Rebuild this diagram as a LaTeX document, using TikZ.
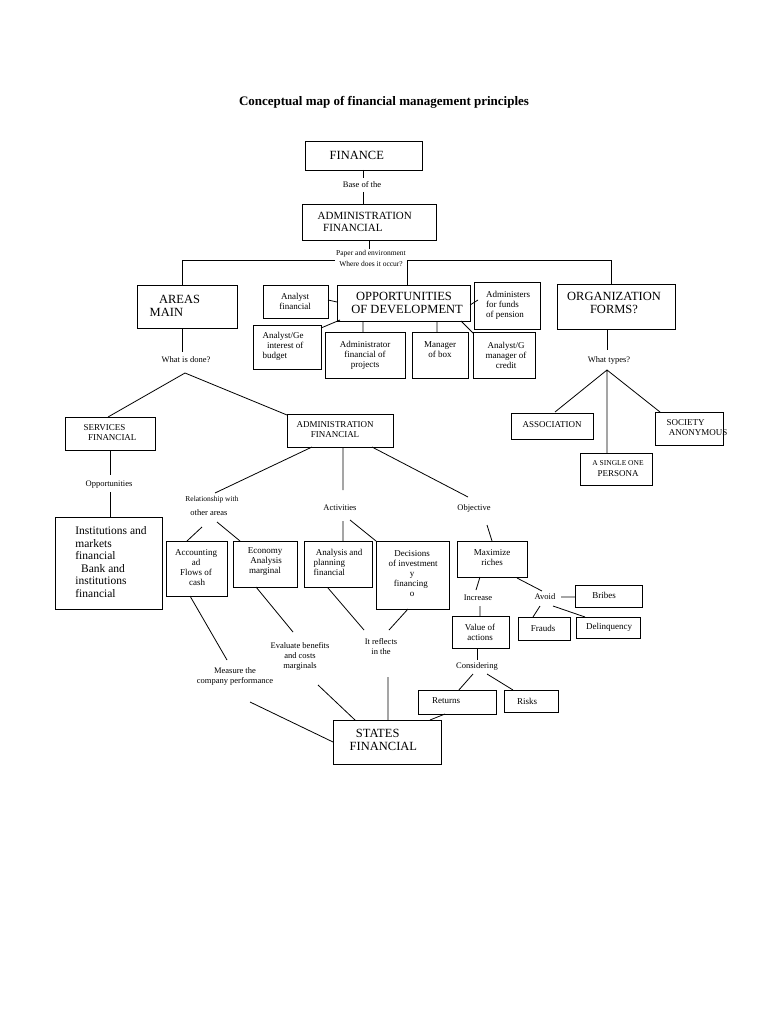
\documentclass[tikz,border=0pt]{standalone}
\usepackage{fontspec}
\setmainfont{Liberation Serif}
\begin{document}
\begin{tikzpicture}[x=1pt,y=-1pt,line width=0.8pt,
 bx/.style={draw,fill=white},
 big/.style={font=\fontsize{12.5}{13}\selectfont,align=left,anchor=west},
 sm/.style={font=\fontsize{9}{10}\selectfont,align=center},
 tiny/.style={font=\fontsize{7.5}{8}\selectfont,align=center},
 lab/.style={font=\fontsize{8.5}{10}\selectfont,align=center}]
\useasboundingbox (0,0) rectangle (768,1024);
\node[font=\bfseries\fontsize{13}{15}\selectfont] (title) at (384,102) {Conceptual map of financial management principles};
% boxes
\def\bxx#1#2#3#4#5{\path[bx] (#2,#3) rectangle (#4,#5) coordinate (#1-br); \coordinate (#1) at ({(#2+#4)/2},{(#3+#5)/2});}
\draw[bx] (305,141) rectangle (422,170); \node[big] (fin) at (326,155) {FINANCE};
\node[lab] (base) at (362,185) {Base of the};
\draw[bx] (302,204) rectangle (436,240); \node[big,font=\fontsize{11}{12}\selectfont] (adm) at (314,222) {ADMINISTRATION\\ \ \ FINANCIAL};
\node[tiny] (paper) at (371,254) {Paper and environment};
\node[tiny] (where) at (371,264) {Where does it occur?};
\draw (363,170)--(363,178) (363,192)--(363,204) (369,240)--(369,249);
\draw (335,260)--(182,260)--(182,285) (407,285)--(407,260)--(611,260)--(611,284);
\draw[bx] (137,285) rectangle (237,328); \node[big] (areas) at (146,306) {\ \ \ AREAS\\MAIN};
\draw[bx] (263,285) rectangle (328,318); \node[sm] (af) at (295,301) {Analyst\\financial};
\draw[bx] (337,285) rectangle (470,321); \node[big,align=center,anchor=center] (opp) at (404,303) {OPPORTUNITIES\\ \ \ OF DEVELOPMENT};
\draw[bx] (474,282) rectangle (540,329); \node[sm,align=left] (admf) at (508,305) {Administers\\for funds\\of pension};
\draw[bx] (557,284) rectangle (675,329); \node[big,align=center,anchor=center] (org) at (614,303) {ORGANIZATION\\FORMS?};
\draw[bx] (253,325) rectangle (321,369); \node[sm,align=left] (ag) at (283,346) {Analyst/Ge\\\ \ interest of\\budget};
\draw[bx] (325,332) rectangle (405,378); \node[sm] (adp) at (365,355) {Administrator\\financial of\\projects};
\draw[bx] (412,332) rectangle (468,378); \node[sm] (mb) at (440,350) {Manager\\of box};
\draw[bx] (473,332) rectangle (535,378); \node[sm] (agc) at (506,355) {Analyst/G\\manager of\\credit};
\draw (337,302)--(328,300) (340,320)--(321,328) (363,321)--(363,332) (437,321)--(437,332) (461,321)--(473,333) (470,305)--(478,300);
% areas branch
\draw (182,328)--(182,352);
\node[lab] (what) at (186,360) {What is done?};
\draw (108,417)--(185,373)--(287,415);
\draw[bx] (65,417) rectangle (155,450); \node[sm,align=left] (serv) at (110,433) {SERVICES\\\ \ FINANCIAL};
\draw[bx] (287,414) rectangle (393,447); \node[sm] (adm2) at (335,430) {ADMINISTRATION\\FINANCIAL};
\draw (110,450)--(110,475); \node[lab] (opps) at (109,485) {Opportunities};
\draw (110,492)--(110,517);
\draw[bx] (55,517) rectangle (162,609); \node[font=\fontsize{11.5}{12.5}\selectfont,align=left] (inst) at (111,562) {Institutions and\\markets\\financial\\\ \ Bank and\\institutions\\financial};
% org branch
\draw (607,329)--(607,350); \node[lab] (types) at (609,360) {What types?};
\draw (555,412)--(607,370)--(660,412) (607,370)--(607,455);
\draw[bx] (511,413) rectangle (593,439); \node[sm] (assoc) at (552,425) {ASSOCIATION};
\draw[bx] (655,412) rectangle (723,445); \node[sm,align=left,anchor=west] (soc) at (663,428) {SOCIETY\\\ ANONYMOUS};
\draw[bx] (580,453) rectangle (652,485); \node[font=\fontsize{7.5}{11}\selectfont,align=center] (single) at (618,469) {A SINGLE ONE\\{\fontsize{9}{11}\selectfont PERSONA}};
% admin2 children
\draw (312,447)--(215,493) (343,447)--(343,490) (372,447)--(468,497);
\node[tiny] (rel) at (212,500) {Relationship with};
\node[lab] (rel2) at (209,513) {other areas};
\node[lab] (act) at (340,508) {Activities};
\node[lab] (obj) at (474,508) {Objective};
\draw (202,527)--(187,541) (217,522)--(240,541) (343,521)--(343,541) (350,520)--(376,541);
\draw[bx] (166,541) rectangle (227,596); \node[sm,align=center] (acc) at (196,568) {Accounting\\ad\\Flows of\\\ cash};
\draw[bx] (233,541) rectangle (297,587); \node[sm] (eco) at (265,562) {Economy\\\ Analysis\\marginal};
\draw[bx] (304,541) rectangle (372,587); \node[sm,align=left] (anp) at (338,562) {\ Analysis and\\planning\\financial};
\draw[bx] (376,541) rectangle (449,609); \node[sm] (dec) at (412,574) {Decisions\\\ of investment\\y\\financing\ \ \ \\o};
\draw (190,596)--(227,660) (256,587)--(293,632) (328,588)--(364,630) (408,609)--(389,630);
\node[lab] (meas) at (235,676) {Measure the\\company performance};
\node[lab] (eval) at (300,656) {Evaluate benefits\\and costs\\marginals};
\node[lab] (refl) at (381,647) {It reflects\\in the};
\draw[bx] (333,720) rectangle (441,764); \node[big] (states) at (346,740) {\ \ STATES\\FINANCIAL};
\draw (250,702)--(333,742) (318,685)--(355,720) (388,677)--(388,720);
% objective
\draw (487,525)--(492,541);
\draw[bx] (457,541) rectangle (527,577); \node[sm] (max) at (492,558) {Maximize\\riches};
\draw (480,577)--(476,590) (480,606)--(480,616) (517,578)--(542,591) (561,597)--(575,597) (540,606)--(533,617) (553,606)--(585,617);
\node[lab] (inc) at (478,598) {Increase};
\node[lab] (avoid) at (545,597) {Avoid};
\draw[bx] (452,616) rectangle (509,648); \node[sm] (val) at (480,632) {Value of\\actions};
\draw[bx] (575,585) rectangle (642,607); \node[sm] (bribes) at (604,595) {Bribes};
\draw[bx] (518,617) rectangle (570,640); \node[sm] (frauds) at (543,628) {Frauds};
\draw[bx] (576,617) rectangle (640,638); \node[sm] (del) at (609,627) {Delinquency};
\draw (477,648)--(477,660); \node[lab] (cons) at (477,666) {Considering};
\draw (473,674)--(458,691) (487,674)--(513,690);
\draw[bx] (418,690) rectangle (496,714); \node[sm] (ret) at (446,701) {Returns};
\draw[bx] (504,690) rectangle (558,712); \node[sm] (risk) at (527,701) {Risks};
\draw (445,714)--(430,720);
\end{tikzpicture}
\end{document}
